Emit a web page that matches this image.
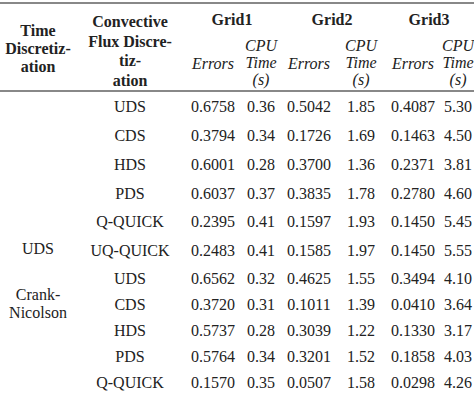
<!DOCTYPE html>
<html>
<head>
<meta charset="utf-8">
<script src="https://cdn.jsdelivr.net/npm/chart.js@4"></script>
<style>
  body { margin: 0; background: #fff; font-family: "Liberation Serif", serif; color: #222; }
  table { border-collapse: collapse; width: 474px; margin-top: 2px; table-layout: fixed; }
  td, th { padding: 0; text-align: center; font-size: 16px; white-space: nowrap; }
  thead tr:first-child th { border-top: 2px solid #888; }
  thead { border-bottom: 2px solid #888; }
  tbody { border-bottom: 2px solid #888; }
  th { font-weight: bold; line-height: 18px; }
  .sub { font-style: italic; font-weight: normal; font-size: 16px; line-height: 17px; }
  tbody td { height: 26px; }
</style>
</head>
<body>
<table id="t"></table>
<script>
// table data
const grids = ['Grid1', 'Grid2', 'Grid3'];
const timeGroups = ['UDS', 'Crank-\nNicolson'];
const schemes = ['UDS', 'CDS', 'HDS', 'PDS', 'Q-QUICK', 'UQ-QUICK'];
const errG1 = [0.6758, 0.3794, 0.6001, 0.6037, 0.2395, 0.2483, 0.6562, 0.3720, 0.5737, 0.5764, 0.1570, 0.1600];
const cpuG1 = [0.36, 0.34, 0.28, 0.37, 0.41, 0.41, 0.32, 0.31, 0.28, 0.34, 0.35, 0.36];
const errG2 = [0.5042, 0.1726, 0.3700, 0.3835, 0.1597, 0.1585, 0.4625, 0.1011, 0.3039, 0.3201, 0.0507, 0.0508];
const cpuG2 = [1.85, 1.69, 1.36, 1.78, 1.93, 1.97, 1.55, 1.39, 1.22, 1.52, 1.58, 1.64];
const errG3 = [0.4087, 0.1463, 0.2371, 0.2780, 0.1450, 0.1450, 0.3494, 0.0410, 0.1330, 0.1858, 0.0298, 0.0309];
const cpuG3 = [5.30, 4.50, 3.81, 4.60, 5.45, 5.55, 4.10, 3.64, 3.17, 4.03, 4.26, 4.38];

const t = document.getElementById('t');
const widths = [76, 108, 58, 38, 58, 46, 58, 32];
const groupPad = [148, 20];
let html = '<colgroup>' + widths.map(w => `<col style="width:${w}px">`).join('') + '</colgroup>';
html += '<thead><tr style="height:30px"><th rowspan="2" style="vertical-align:top;padding-top:18px">Time<br>Discretiz-<br>ation</th>' +
  '<th rowspan="2" style="vertical-align:top;padding-top:8px;line-height:19.5px">Convective<br>Flux Discre-<br>tiz-<br>ation</th>' +
  grids.map(g => `<th colspan="2" style="vertical-align:top;padding-top:7px">${g}</th>`).join('') + '</tr><tr style="height:57px">';
grids.forEach(() => { html += '<th class="sub" style="vertical-align:top;padding-top:22px">Errors</th><th class="sub" style="vertical-align:top;padding-top:4px">CPU<br>Time<br>(s)</th>'; });
html += '</tr></thead><tbody>';
const cols = [errG1, cpuG1, errG2, cpuG2, errG3, cpuG3];
for (let i = 0; i < 12; i++) {
  html += '<tr>';
  if (i % 6 === 0) html += `<td rowspan="6" style="vertical-align:top;padding-top:${groupPad[i / 6]}px;line-height:18px">${timeGroups[i / 6].replace('\n', '<br>')}</td>`;
  html += `<td>${schemes[i % 6]}</td>`;
  cols.forEach((c, k) => { html += `<td>${c[i].toFixed(k % 2 ? 2 : 4)}</td>`; });
  html += '</tr>';
}
html += '</tbody>';
t.innerHTML = html;
</script>
</body>
</html>
